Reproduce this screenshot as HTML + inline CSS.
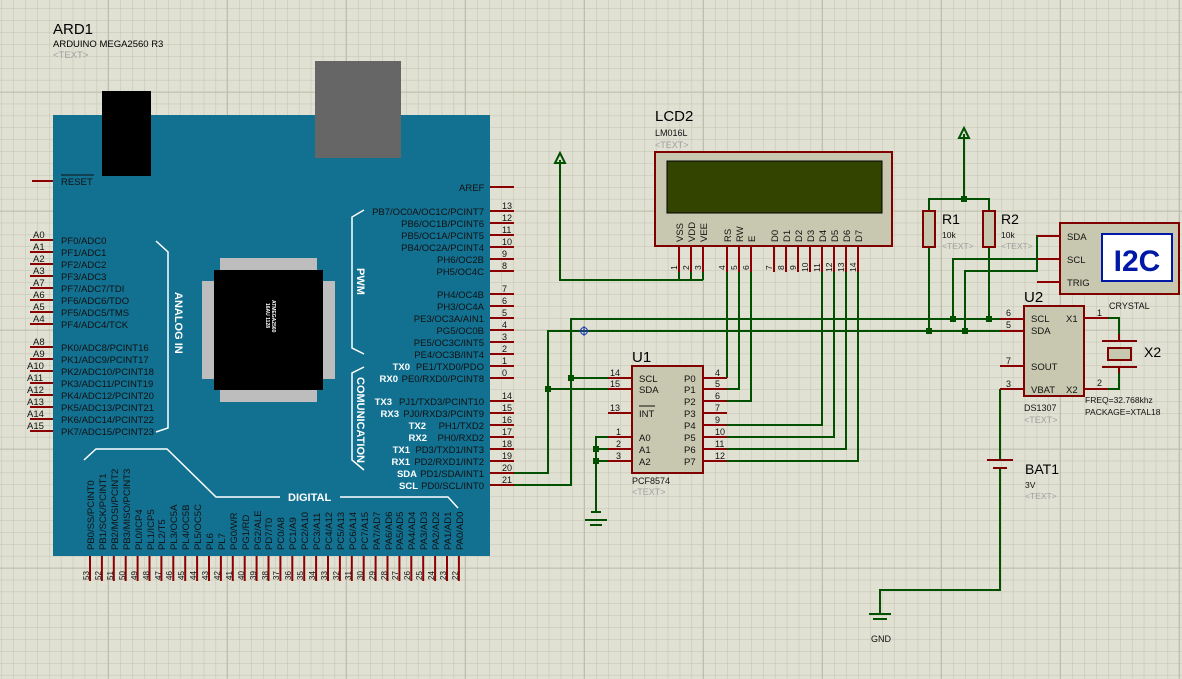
<!DOCTYPE html>
<html><head><meta charset="utf-8"><style>
html,body{margin:0;padding:0;background:#e0e0d3;}
svg{display:block;font-family:"Liberation Sans",sans-serif;}
</style></head><body>
<svg width="1182" height="679" viewBox="0 0 1182 679" xmlns="http://www.w3.org/2000/svg">
<defs>
<pattern id="mn" x="1.4" y="8.5" width="11.9" height="11.9" patternUnits="userSpaceOnUse"><path d="M0 0V11.9M0 0H11.9" stroke="#c3c3b3" stroke-width="1"/></pattern>
<pattern id="mj" x="107.7" y="91.7" width="119" height="119" patternUnits="userSpaceOnUse"><path d="M0 0V119M0 0H119" stroke="#bcbcac" stroke-width="2"/></pattern>
</defs>
<rect width="1182" height="679" fill="#e0e0d3"/>
<rect width="1182" height="679" fill="url(#mn)"/>
<rect width="1182" height="679" fill="url(#mj)"/>

<!-- ARD1 -->
<text x="53" y="34" font-size="15">ARD1</text>
<text x="53" y="47" font-size="9.5">ARDUINO MEGA2560 R3</text>
<text x="53" y="58" font-size="9.5" fill="#a0a0a0">&lt;TEXT&gt;</text>
<rect x="53" y="115" width="437" height="441" fill="#127090"/>
<rect x="102" y="91" width="49" height="85" fill="#000"/>
<rect x="315" y="61" width="86" height="97" fill="#666"/>
<rect x="220" y="258" width="97" height="144" fill="#bdbdbd"/>
<rect x="202" y="281" width="133" height="98" fill="#bdbdbd"/>
<rect x="214" y="270" width="109" height="120" fill="#000"/>
<text transform="translate(272,300) rotate(90)" font-size="5" fill="#fff" font-weight="bold">ATMEGA2560</text>
<text transform="translate(266,303) rotate(90)" font-size="5" fill="#fff" font-weight="bold">16AU 1128</text>

<!-- left pins -->
<g stroke="#8b0000" stroke-width="2">
<line x1="32" y1="181" x2="53" y2="181"/>
<line x1="30" y1="240" x2="53" y2="240"/><line x1="30" y1="252" x2="53" y2="252"/><line x1="30" y1="264" x2="53" y2="264"/><line x1="30" y1="276" x2="53" y2="276"/><line x1="30" y1="288" x2="53" y2="288"/><line x1="30" y1="300" x2="53" y2="300"/><line x1="30" y1="312" x2="53" y2="312"/><line x1="30" y1="324" x2="53" y2="324"/>
<line x1="30" y1="347" x2="53" y2="347"/><line x1="30" y1="359" x2="53" y2="359"/><line x1="30" y1="371" x2="53" y2="371"/><line x1="30" y1="383" x2="53" y2="383"/><line x1="30" y1="395" x2="53" y2="395"/><line x1="30" y1="407" x2="53" y2="407"/><line x1="30" y1="419" x2="53" y2="419"/><line x1="30" y1="431" x2="53" y2="431"/>
</g>
<g font-size="9.5" fill="#111">
<text x="61" y="185">RESET</text><line x1="61" y1="175" x2="94" y2="175" stroke="#111"/>
<text x="33" y="238">A0</text><text x="33" y="250">A1</text><text x="33" y="262">A2</text><text x="33" y="274">A3</text><text x="33" y="286">A7</text><text x="33" y="298">A6</text><text x="33" y="310">A5</text><text x="33" y="322">A4</text>
<text x="33" y="345">A8</text><text x="33" y="357">A9</text><text x="27" y="369">A10</text><text x="27" y="381">A11</text><text x="27" y="393">A12</text><text x="27" y="405">A13</text><text x="27" y="417">A14</text><text x="27" y="429">A15</text>
<text x="61" y="244">PF0/ADC0</text><text x="61" y="256">PF1/ADC1</text><text x="61" y="268">PF2/ADC2</text><text x="61" y="280">PF3/ADC3</text><text x="61" y="292">PF7/ADC7/TDI</text><text x="61" y="304">PF6/ADC6/TDO</text><text x="61" y="316">PF5/ADC5/TMS</text><text x="61" y="328">PF4/ADC4/TCK</text>
<text x="61" y="351">PK0/ADC8/PCINT16</text><text x="61" y="363">PK1/ADC9/PCINT17</text><text x="61" y="375">PK2/ADC10/PCINT18</text><text x="61" y="387">PK3/ADC11/PCINT19</text><text x="61" y="399">PK4/ADC12/PCINT20</text><text x="61" y="411">PK5/ADC13/PCINT21</text><text x="61" y="423">PK6/ADC14/PCINT22</text><text x="61" y="435">PK7/ADC15/PCINT23</text>
</g>
<g stroke="#fff" stroke-width="1.5" fill="none">
<polyline points="156,241 168,252 168,428 156,432"/>
<polyline points="364,210 352,217 352,348 364,354"/>
<polyline points="364,367 352,373 352,460 364,470"/>
<polyline points="84,460 96,449 167,449 216,497 280,497"/>
<polyline points="340,497 448,497 458,508"/>
</g>
<g fill="#fff" font-weight="bold" font-size="11">
<text transform="translate(175,292) rotate(90)">ANALOG IN</text>
<text transform="translate(357,268) rotate(90)">PWM</text>
<text transform="translate(357,377) rotate(90)">COMUNICATION</text>
<text x="288" y="501">DIGITAL</text>
</g>
<text x="459" y="191" font-size="9.5" fill="#111">AREF</text>
<line x1="490" y1="187" x2="514" y2="187" stroke="#8b0000" stroke-width="2"/>

<!-- right pins -->
<g stroke="#8b0000" stroke-width="2">
<line x1="490" y1="211" x2="514" y2="211"/><line x1="490" y1="223" x2="514" y2="223"/><line x1="490" y1="235" x2="514" y2="235"/><line x1="490" y1="247" x2="514" y2="247"/><line x1="490" y1="259" x2="514" y2="259"/><line x1="490" y1="271" x2="514" y2="271"/>
<line x1="490" y1="294" x2="514" y2="294"/><line x1="490" y1="306" x2="514" y2="306"/><line x1="490" y1="318" x2="514" y2="318"/><line x1="490" y1="330" x2="514" y2="330"/><line x1="490" y1="342" x2="514" y2="342"/><line x1="490" y1="354" x2="514" y2="354"/><line x1="490" y1="366" x2="514" y2="366"/><line x1="490" y1="378" x2="514" y2="378"/>
<line x1="490" y1="401" x2="514" y2="401"/><line x1="490" y1="413" x2="514" y2="413"/><line x1="490" y1="425" x2="514" y2="425"/><line x1="490" y1="437" x2="514" y2="437"/><line x1="490" y1="449" x2="514" y2="449"/><line x1="490" y1="461" x2="514" y2="461"/><line x1="490" y1="473" x2="514" y2="473"/><line x1="490" y1="485" x2="514" y2="485"/>
</g>
<g font-size="9.5" fill="#111" text-anchor="end">
<text x="484" y="215">PB7/OC0A/OC1C/PCINT7</text><text x="484" y="227">PB6/OC1B/PCINT6</text><text x="484" y="239">PB5/OC1A/PCINT5</text><text x="484" y="251">PB4/OC2A/PCINT4</text><text x="484" y="263">PH6/OC2B</text><text x="484" y="275">PH5/OC4C</text>
<text x="484" y="298">PH4/OC4B</text><text x="484" y="310">PH3/OC4A</text><text x="484" y="322">PE3/OC3A/AIN1</text><text x="484" y="334">PG5/OC0B</text><text x="484" y="346">PE5/OC3C/INT5</text><text x="484" y="358">PE4/OC3B/INT4</text><text x="484" y="370">PE1/TXD0/PDO</text><text x="484" y="382">PE0/RXD0/PCINT8</text>
<text x="484" y="405">PJ1/TXD3/PCINT10</text><text x="484" y="417">PJ0/RXD3/PCINT9</text><text x="484" y="429">PH1/TXD2</text><text x="484" y="441">PH0/RXD2</text><text x="484" y="453">PD3/TXD1/INT3</text><text x="484" y="465">PD2/RXD1/INT2</text><text x="484" y="477">PD1/SDA/INT1</text><text x="484" y="489">PD0/SCL/INT0</text>
</g>
<g font-size="9.5" fill="#fff" font-weight="bold" text-anchor="end">
<text x="410" y="370">TX0</text><text x="398" y="382">RX0</text><text x="392" y="405">TX3</text><text x="399" y="417">RX3</text><text x="426" y="429">TX2</text><text x="427" y="441">RX2</text><text x="410" y="453">TX1</text><text x="410" y="465">RX1</text><text x="417" y="477">SDA</text><text x="418" y="489">SCL</text>
</g>
<g font-size="9" fill="#111">
<text x="502" y="209">13</text><text x="502" y="221">12</text><text x="502" y="233">11</text><text x="502" y="245">10</text><text x="502" y="257">9</text><text x="502" y="269">8</text>
<text x="502" y="292">7</text><text x="502" y="304">6</text><text x="502" y="316">5</text><text x="502" y="328">4</text><text x="502" y="340">3</text><text x="502" y="352">2</text><text x="502" y="364">1</text><text x="502" y="376">0</text>
<text x="502" y="399">14</text><text x="502" y="411">15</text><text x="502" y="423">16</text><text x="502" y="435">17</text><text x="502" y="447">18</text><text x="502" y="459">19</text><text x="502" y="471">20</text><text x="502" y="483">21</text>
</g>

<!-- bottom pins -->
<g stroke="#8b0000" stroke-width="2">
<path d="M90 556V581M101.9 556V581M113.8 556V581M125.7 556V581M137.6 556V581M149.5 556V581M161.4 556V581M173.3 556V581M185.2 556V581M197.1 556V581M209 556V581M220.9 556V581M232.8 556V581M244.7 556V581M256.6 556V581M268.5 556V581M280.4 556V581M292.3 556V581M304.2 556V581M316.1 556V581M328 556V581M339.9 556V581M351.8 556V581M363.7 556V581M375.6 556V581M387.5 556V581M399.4 556V581M411.3 556V581M423.2 556V581M435.1 556V581M447 556V581M458.9 556V581"/>
</g>
<g font-size="9.5" fill="#111">
<text transform="translate(94,550) rotate(-90)">PB0/SS/PCINT0</text>
<text transform="translate(106,550) rotate(-90)">PB1/SCK/PCINT1</text>
<text transform="translate(118,550) rotate(-90)">PB2/MOSI/PCINT2</text>
<text transform="translate(130,550) rotate(-90)">PB3/MISO/PCINT3</text>
<text transform="translate(142,550) rotate(-90)">PL0/ICP4</text>
<text transform="translate(154,550) rotate(-90)">PL1/ICP5</text>
<text transform="translate(165,550) rotate(-90)">PL2/T5</text>
<text transform="translate(177,550) rotate(-90)">PL3/OC5A</text>
<text transform="translate(189,550) rotate(-90)">PL4/OC5B</text>
<text transform="translate(201,550) rotate(-90)">PL5/OC5C</text>
<text transform="translate(213,550) rotate(-90)">PL6</text>
<text transform="translate(225,550) rotate(-90)">PL7</text>
<text transform="translate(237,550) rotate(-90)">PG0/WR</text>
<text transform="translate(249,550) rotate(-90)">PG1/RD</text>
<text transform="translate(261,550) rotate(-90)">PG2/ALE</text>
<text transform="translate(272,550) rotate(-90)">PD7/T0</text>
<text transform="translate(284,550) rotate(-90)">PC0/A8</text>
<text transform="translate(296,550) rotate(-90)">PC1/A9</text>
<text transform="translate(308,550) rotate(-90)">PC2/A10</text>
<text transform="translate(320,550) rotate(-90)">PC3/A11</text>
<text transform="translate(332,550) rotate(-90)">PC4/A12</text>
<text transform="translate(344,550) rotate(-90)">PC5/A13</text>
<text transform="translate(356,550) rotate(-90)">PC6/A14</text>
<text transform="translate(368,550) rotate(-90)">PC7/A15</text>
<text transform="translate(380,550) rotate(-90)">PA7/AD7</text>
<text transform="translate(392,550) rotate(-90)">PA6/AD6</text>
<text transform="translate(403,550) rotate(-90)">PA5/AD5</text>
<text transform="translate(415,550) rotate(-90)">PA4/AD4</text>
<text transform="translate(427,550) rotate(-90)">PA3/AD3</text>
<text transform="translate(439,550) rotate(-90)">PA2/AD2</text>
<text transform="translate(451,550) rotate(-90)">PA1/AD1</text>
<text transform="translate(463,550) rotate(-90)">PA0/AD0</text>
</g>
<g font-size="8" fill="#111">
<text transform="translate(89,580) rotate(-90)">53</text><text transform="translate(101,580) rotate(-90)">52</text><text transform="translate(113,580) rotate(-90)">51</text><text transform="translate(125,580) rotate(-90)">50</text><text transform="translate(137,580) rotate(-90)">49</text><text transform="translate(149,580) rotate(-90)">48</text><text transform="translate(161,580) rotate(-90)">47</text><text transform="translate(172,580) rotate(-90)">46</text><text transform="translate(184,580) rotate(-90)">45</text><text transform="translate(196,580) rotate(-90)">44</text><text transform="translate(208,580) rotate(-90)">43</text><text transform="translate(220,580) rotate(-90)">42</text><text transform="translate(232,580) rotate(-90)">41</text><text transform="translate(244,580) rotate(-90)">40</text><text transform="translate(256,580) rotate(-90)">39</text><text transform="translate(268,580) rotate(-90)">38</text><text transform="translate(279,580) rotate(-90)">37</text><text transform="translate(291,580) rotate(-90)">36</text><text transform="translate(303,580) rotate(-90)">35</text><text transform="translate(315,580) rotate(-90)">34</text><text transform="translate(327,580) rotate(-90)">33</text><text transform="translate(339,580) rotate(-90)">32</text><text transform="translate(351,580) rotate(-90)">31</text><text transform="translate(363,580) rotate(-90)">30</text><text transform="translate(375,580) rotate(-90)">29</text><text transform="translate(387,580) rotate(-90)">28</text><text transform="translate(398,580) rotate(-90)">27</text><text transform="translate(410,580) rotate(-90)">26</text><text transform="translate(422,580) rotate(-90)">25</text><text transform="translate(434,580) rotate(-90)">24</text><text transform="translate(446,580) rotate(-90)">23</text><text transform="translate(458,580) rotate(-90)">22</text>
</g>

<!-- wires -->
<g stroke="#005000" stroke-width="2" fill="none">
<polyline points="514,473 548,473 548,331 1000,331"/>
<polyline points="514,485 571,485 571,319 1000,319"/>
<line x1="548" y1="389" x2="608" y2="389"/>
<line x1="571" y1="378" x2="608" y2="378"/>
<polyline points="560,160 560,280 703,280"/>
<path d="M679 272V280M691 272V280M703 272V280"/>
<polyline points="727,272 727,378"/>
<polyline points="739,272 739,389 727,389"/>
<polyline points="751,272 751,401 727,401"/>
<polyline points="822,272 822,425 727,425"/>
<polyline points="834,272 834,437 727,437"/>
<polyline points="846,272 846,449 727,449"/>
<polyline points="858,272 858,461 727,461"/>
<polyline points="608,437 596,437 596,512"/>
<line x1="596" y1="449" x2="608" y2="449"/><line x1="596" y1="461" x2="608" y2="461"/>
<polyline points="964,134 964,199"/>
<polyline points="929,211 929,199 989,199 989,211"/>
<line x1="929" y1="247" x2="929" y2="331"/>
<line x1="989" y1="247" x2="989" y2="319"/>
<polyline points="1060,236 1037,236 1037,271 965,271 965,331"/>
<polyline points="1060,259 953,259 953,319"/>
<polyline points="1108,318 1119,318 1119,334"/>
<polyline points="1108,389 1119,389 1119,373"/>
<polyline points="1000,389 1000,460"/>
<polyline points="1000,468 1000,590 880,590 880,614"/>
</g>
<g fill="#005000">
<rect x="545" y="386" width="6" height="6"/><rect x="568" y="375" width="6" height="6"/>
<rect x="593" y="446" width="6" height="6"/><rect x="593" y="458" width="6" height="6"/>
<rect x="961" y="196" width="6" height="6"/>
<rect x="926" y="328" width="6" height="6"/><rect x="962" y="328" width="6" height="6"/>
<rect x="950" y="316" width="6" height="6"/><rect x="986" y="316" width="6" height="6"/>
</g>
<!-- power arrows -->
<g stroke="#005000" stroke-width="2" fill="none">
<polygon points="560,153 555,163 565,163"/>
<polygon points="964,128 959,138 969,138"/>
<line x1="585" y1="520" x2="607" y2="520"/><line x1="590" y1="525" x2="602" y2="525"/>
<line x1="591" y1="512" x2="601" y2="512"/>
<line x1="869" y1="614" x2="891" y2="614"/><line x1="873" y1="619" x2="887" y2="619"/>
</g>
<circle cx="584" cy="331" r="3.5" fill="none" stroke="#1a3ab0" stroke-width="1"/>
<path d="M579 331H589M584 326V336" stroke="#1a3ab0" stroke-width="1"/>
<text x="871" y="642" font-size="9" fill="#111">GND</text>

<!-- LCD -->
<text x="655" y="121" font-size="15">LCD2</text>
<text x="655" y="136" font-size="9" fill="#111">LM016L</text>
<text x="655" y="148" font-size="9" fill="#a0a0a0">&lt;TEXT&gt;</text>
<rect x="655" y="152" width="237" height="94" fill="#c8c8b0" stroke="#800000" stroke-width="2"/>
<rect x="667" y="161" width="215" height="52" fill="#334400" stroke="#000" stroke-width="1"/>
<g stroke="#8b0000" stroke-width="2">
<path d="M679 246V272M691 246V272M703 246V272M727 246V272M739 246V272M751 246V272M774 246V272M786 246V272M798 246V272M810 246V272M822 246V272M834 246V272M846 246V272M858 246V272"/>
</g>
<g font-size="9.5" fill="#111">
<text transform="translate(683,242) rotate(-90)">VSS</text><text transform="translate(695,242) rotate(-90)">VDD</text><text transform="translate(707,242) rotate(-90)">VEE</text>
<text transform="translate(731,242) rotate(-90)">RS</text><text transform="translate(743,242) rotate(-90)">RW</text><text transform="translate(755,242) rotate(-90)">E</text>
<text transform="translate(778,242) rotate(-90)">D0</text><text transform="translate(790,242) rotate(-90)">D1</text><text transform="translate(802,242) rotate(-90)">D2</text><text transform="translate(814,242) rotate(-90)">D3</text><text transform="translate(826,242) rotate(-90)">D4</text><text transform="translate(838,242) rotate(-90)">D5</text><text transform="translate(850,242) rotate(-90)">D6</text><text transform="translate(862,242) rotate(-90)">D7</text>
</g>
<g font-size="8.5" fill="#111">
<text transform="translate(677,270) rotate(-90)">1</text><text transform="translate(689,270) rotate(-90)">2</text><text transform="translate(701,270) rotate(-90)">3</text><text transform="translate(725,270) rotate(-90)">4</text><text transform="translate(737,270) rotate(-90)">5</text><text transform="translate(749,270) rotate(-90)">6</text><text transform="translate(772,270) rotate(-90)">7</text><text transform="translate(784,270) rotate(-90)">8</text><text transform="translate(796,270) rotate(-90)">9</text><text transform="translate(808,272) rotate(-90)">10</text><text transform="translate(820,272) rotate(-90)">11</text><text transform="translate(832,272) rotate(-90)">12</text><text transform="translate(844,272) rotate(-90)">13</text><text transform="translate(856,272) rotate(-90)">14</text>
</g>

<!-- U1 -->
<text x="632" y="362" font-size="15">U1</text>
<rect x="632" y="366" width="71" height="107" fill="#c8c8b0" stroke="#800000" stroke-width="2"/>
<g stroke="#8b0000" stroke-width="2">
<path d="M608 378H632M608 389H632M608 413H632M608 437H632M608 449H632M608 461H632"/>
<path d="M703 378H727M703 389H727M703 401H727M703 413H727M703 425H727M703 437H727M703 449H727M703 461H727"/>
</g>
<g font-size="9.5" fill="#111">
<text x="639" y="382">SCL</text><text x="639" y="393">SDA</text><text x="639" y="417">INT</text><line x1="639" y1="406" x2="655" y2="406" stroke="#111"/>
<text x="639" y="441">A0</text><text x="639" y="453">A1</text><text x="639" y="465">A2</text>
<text x="684" y="382">P0</text><text x="684" y="393">P1</text><text x="684" y="405">P2</text><text x="684" y="417">P3</text><text x="684" y="429">P4</text><text x="684" y="441">P5</text><text x="684" y="453">P6</text><text x="684" y="465">P7</text>
</g>
<g font-size="9" fill="#111">
<text x="610" y="376">14</text><text x="610" y="387">15</text><text x="610" y="411">13</text><text x="616" y="435">1</text><text x="616" y="447">2</text><text x="616" y="459">3</text>
<text x="715" y="376">4</text><text x="715" y="387">5</text><text x="715" y="399">6</text><text x="715" y="411">7</text><text x="715" y="423">9</text><text x="715" y="435">10</text><text x="715" y="447">11</text><text x="715" y="459">12</text>
</g>
<text x="632" y="484" font-size="9" fill="#111">PCF8574</text>
<text x="632" y="495" font-size="9" fill="#a0a0a0">&lt;TEXT&gt;</text>

<!-- R1 R2 -->
<rect x="923" y="211" width="12" height="36" fill="#c8c8b0" stroke="#800000" stroke-width="2"/>
<rect x="983" y="211" width="12" height="36" fill="#c8c8b0" stroke="#800000" stroke-width="2"/>
<text x="942" y="224" font-size="14">R1</text><text x="942" y="238" font-size="8.5" fill="#111">10k</text><text x="942" y="249" font-size="8.5" fill="#a0a0a0">&lt;TEXT&gt;</text>
<text x="1001" y="224" font-size="14">R2</text><text x="1001" y="238" font-size="8.5" fill="#111">10k</text><text x="1001" y="249" font-size="8.5" fill="#a0a0a0">&lt;TEXT&gt;</text>

<!-- I2C debugger -->
<rect x="1060" y="223" width="119" height="71" fill="#c8c8b0" stroke="#800000" stroke-width="2"/>
<g stroke="#8b0000" stroke-width="2"><path d="M1037 236H1060M1037 259H1060M1037 282H1060"/></g>
<rect x="1102" y="234" width="70" height="47" fill="#fff" stroke="#0018a8" stroke-width="2"/>
<text x="1137" y="271" font-size="30" font-weight="bold" fill="#0018a8" text-anchor="middle">I2C</text>
<g font-size="9.5" fill="#111"><text x="1067" y="240">SDA</text><text x="1067" y="263">SCL</text><text x="1067" y="286">TRIG</text></g>

<!-- U2 -->
<text x="1024" y="302" font-size="15">U2</text>
<rect x="1024" y="306" width="60" height="90" fill="#c8c8b0" stroke="#800000" stroke-width="2"/>
<g stroke="#8b0000" stroke-width="2"><path d="M1000 319H1024M1000 331H1024M1000 366H1024M1000 389H1024M1084 318H1108M1084 389H1108"/></g>
<g font-size="9.5" fill="#111">
<text x="1031" y="322">SCL</text><text x="1031" y="334">SDA</text><text x="1031" y="370">SOUT</text><text x="1031" y="393">VBAT</text>
<text x="1066" y="322">X1</text><text x="1066" y="393">X2</text>
</g>
<g font-size="9" fill="#111"><text x="1006" y="316">6</text><text x="1006" y="328">5</text><text x="1006" y="364">7</text><text x="1006" y="387">3</text><text x="1097" y="316">1</text><text x="1097" y="386">2</text></g>
<text x="1024" y="411" font-size="9" fill="#111">DS1307</text>
<text x="1024" y="423" font-size="9" fill="#a0a0a0">&lt;TEXT&gt;</text>
<text x="1109" y="309" font-size="9" fill="#111">CRYSTAL</text>
<!-- crystal -->
<g stroke="#800000" stroke-width="2">
<line x1="1102" y1="341" x2="1137" y2="341"/><line x1="1102" y1="367" x2="1137" y2="367"/>
<line x1="1119" y1="334" x2="1119" y2="341"/><line x1="1119" y1="367" x2="1119" y2="373"/>
<rect x="1108" y="348" width="23" height="12" fill="#c8c8b0"/>
</g>
<text x="1144" y="357" font-size="14">X2</text>
<text x="1085" y="403" font-size="8.5" fill="#111">FREQ=32.768khz</text>
<text x="1085" y="415" font-size="8.5" fill="#111">PACKAGE=XTAL18</text>

<!-- battery -->
<g stroke="#800000" stroke-width="2">
<line x1="987" y1="460" x2="1013" y2="460"/>
<line x1="993" y1="468" x2="1007" y2="468"/>
</g>
<text x="1025" y="474" font-size="14">BAT1</text>
<text x="1025" y="488" font-size="8.5" fill="#111">3V</text>
<text x="1025" y="499" font-size="8.5" fill="#a0a0a0">&lt;TEXT&gt;</text>
</svg>
</body></html>
